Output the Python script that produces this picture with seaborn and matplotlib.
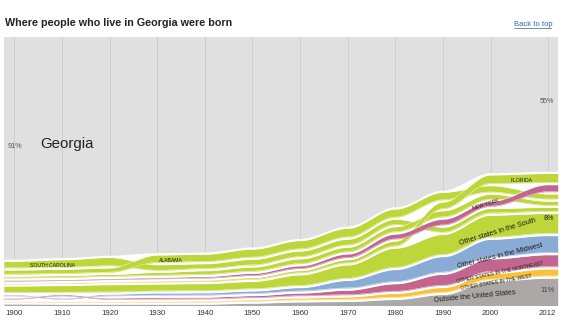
import numpy as np
import matplotlib
matplotlib.use("Agg")
import matplotlib.pyplot as plt
from matplotlib import font_manager as fm
from matplotlib.lines import Line2D
import seaborn as sns

# ---------------- data (percent of Georgia residents, by birthplace) ----------------
years = [1900, 1910, 1920, 1930, 1940, 1950, 1960, 1970, 1980, 1990, 2000, 2012]
year_labels = ["1900", "1910", "1920", "1930", "1940", "1950", "1960", "1970",
               "1980", "1990", "2000", "2012"]
georgia = [91, 90, 89, 88, 88, 86, 82, 77, 70, 63, 55, 55]
south_carolina = [2.6, 2.9, 3.3, 2.2, 1.9, 2.2, 2.2, 2.3, 2.1, 2.0, 1.8, 1.5]
alabama = [1.6, 1.65, 1.7, 3.0, 2.9, 3.2, 3.3, 3.5, 3.2, 3.0, 2.5, 2.0]
north_carolina = [0.6, 0.65, 0.7, 1.1, 1.4, 1.6, 1.9, 1.8, 2.0, 2.45, 2.0, 1.6]
florida = [0.2, 0.2, 0.25, 0.35, 0.45, 0.6, 0.8, 1.2, 1.9, 2.6, 3.4, 3.6]
new_york = [0.35, 0.35, 0.4, 0.45, 0.55, 0.8, 1.0, 1.4, 1.95, 2.3, 1.9, 2.8]
other_south = [2.5, 2.65, 2.9, 2.7, 2.8, 2.9, 4.2, 5.3, 7.7, 8.05, 8.8, 8.0]
other_midwest = [0.45, 0.45, 0.6, 0.8, 0.85, 0.95, 1.3, 3.0, 4.8, 6.2, 7.0, 6.8]
other_northeast = [0.35, 0.5, 0.45, 0.6, 0.6, 0.75, 1.0, 1.8, 3.0, 4.4, 5.0, 4.8]
other_west = [0.2, 0.2, 0.2, 0.3, 0.35, 0.45, 0.7, 0.9, 1.5, 1.9, 2.2, 2.8]
outside_us = [0.6, 0.5, 0.5, 0.5, 0.5, 0.9, 1.4, 1.6, 2.4, 4.4, 9.7, 11.0]

# ---------------- style ----------------
sns.set_theme(style="white")
names = {f.name for f in fm.fontManager.ttflist}
BASE = "Liberation Sans" if "Liberation Sans" in names else "DejaVu Sans"
NARROW = "Liberation Sans Narrow" if "Liberation Sans Narrow" in names else None
plt.rcParams["font.family"] = [BASE, "DejaVu Sans"]


def nfont(size):
    if NARROW:
        return dict(family=[NARROW, BASE], fontsize=size)
    return dict(family=[BASE], fontsize=size * 0.82)


GREEN = "#bdd63a"
PINK = "#c2668f"
BLUE = "#89acd6"
YELLOW = "#f9c23d"
GRAY = "#aca8a8"
GA_GRAY = "#e0e0e0"
GRID = "#cdcdcd"

states = {
    "South Carolina": (south_carolina, GREEN),
    "Alabama": (alabama, GREEN),
    "North Carolina": (north_carolina, GREEN),
    "Florida": (florida, GREEN),
    "New York": (new_york, PINK),
}
regions = {
    "Other South": (other_south, GREEN),
    "Other Midwest": (other_midwest, BLUE),
    "Other Northeast": (other_northeast, PINK),
    "Other West": (other_west, YELLOW),
}

GAP = 0.93
TOTAL = 100 + 9 * GAP
n = len(years)

bottoms, tops = {}, {}
stack_top = np.zeros(n)
allbands = {"Outside": (outside_us, GRAY)}
allbands.update(regions)
allbands.update(states)
for k in allbands:
    bottoms[k] = np.zeros(n)
    tops[k] = np.zeros(n)
for i in range(n):
    tops["Outside"][i] = outside_us[i]
    pos = outside_us[i] + GAP
    for group in (regions, states):
        for k in sorted(group, key=lambda kk: group[kk][0][i]):
            bottoms[k][i] = pos
            tops[k][i] = pos + group[k][0][i]
            pos = tops[k][i] + GAP
    stack_top[i] = pos


def smooth(xs, vals):
    yrs = np.asarray(years, float)
    v = np.asarray(vals, float)
    idx = np.clip(np.searchsorted(yrs, xs, side="right") - 1, 0, len(yrs) - 2)
    x0, x1 = yrs[idx], yrs[idx + 1]
    t = np.clip((xs - x0) / (x1 - x0), 0, 1)
    s = t * t * (3 - 2 * t)
    return v[idx] + (v[idx + 1] - v[idx]) * s


W, H = 565, 329
fig = plt.figure(figsize=(W / 100, H / 100), dpi=100)
fig.patch.set_facecolor("white")
L, R, T, B = 4, 557.7, 37, 305.5
ax = fig.add_axes([L / W, 1 - B / H, (R - L) / W, (B - T) / H])
XMIN, XMAX = 1897.82, 2014.1
xs = np.linspace(XMIN, XMAX, 1500)

ax.set_facecolor(GA_GRAY)
for yr in years:
    ax.axvline(yr, color=GRID, lw=0.7, zorder=0.5)
ax.fill_between(xs, 0, smooth(xs, stack_top), color="white", lw=0, zorder=1)
z = 2
for k, (vals, col) in allbands.items():
    lo = smooth(xs, bottoms[k])
    hi = smooth(xs, tops[k])
    ax.fill_between(xs, lo, hi, color=col, lw=0, zorder=z)
    if k != "Outside":
        ax.plot(xs, lo, color="white", lw=0.3, zorder=z + 0.1)
    ax.plot(xs, hi, color="white", lw=0.3, zorder=z + 0.1)
    z += 0.2

ax.set_xlim(XMIN, XMAX)
ax.set_ylim(0, TOTAL)
for sp in ax.spines.values():
    sp.set_visible(False)
ax.set_yticks([])
ax.set_xticks(years)
ax.set_xticklabels(year_labels)
ax.tick_params(axis="x", length=0, pad=3.5, labelsize=5.6, colors="#333333")


def ftext(px, py, s, **kw):
    return fig.text(px / W, 1 - py / H, s, **kw)


# title and link
ftext(5.4, 25.5, "Where people who live in Georgia were born", ha="left", va="baseline",
      weight="bold", color="#222222", **nfont(9.4))
ftext(513.5, 26, "Back to top", ha="left", va="baseline", color="#3463a0", fontsize=5.5)
fig.add_artist(Line2D([513.5 / W, 551.4 / W], [1 - 27.6 / H, 1 - 27.6 / H],
                      color="#3463a0", lw=0.5))

# Georgia labels
ftext(40.7, 148.3, "Georgia", ha="left", va="baseline", color="#222222", fontsize=10.8)
ftext(14.5, 146, f"{georgia[0]}%", ha="center", va="center", color="#555555", fontsize=5.2)
ftext(554, 101.7, f"{georgia[-1]}%", ha="right", va="center", color="#555555", fontsize=5.2)

# band labels
lab = dict(color="#1e1e1e", ha="center", va="center", rotation_mode="anchor")
ftext(52.5, 265.5, "SOUTH CAROLINA", **lab, **nfont(4.5))
ftext(170.5, 260.7, "ALABAMA", **lab, **nfont(4.5))
ftext(521.5, 180, "FLORIDA", **lab, **nfont(4.5))
ftext(486, 205, "NEW YORK", rotation=17, **lab, **nfont(4.5))
ftext(498, 232, "Other states in the South", rotation=17, **lab, **nfont(6.4))
ftext(549, 218.5, f"{other_south[-1]:.0f}%", color="#1e1e1e", ha="center", va="center",
      **nfont(6.4))
ftext(500, 255.5, "Other states in the Midwest", rotation=14, **lab, **nfont(6.4))
ftext(500, 272, "OTHER STATES IN THE NORTHEAST", rotation=12, **lab, **nfont(4.5))
ftext(496.5, 282.5, "OTHER STATES IN THE WEST", rotation=10, **lab, **nfont(4.5))
ftext(474.5, 296.5, "Outside the United States", rotation=5.5, **lab, **nfont(6.4))
ftext(547, 291, f"{outside_us[-1]:.0f}%", color="#444444", ha="center", va="center",
      fontsize=5.2)

fig.savefig("out.png", dpi=100, facecolor="white")
